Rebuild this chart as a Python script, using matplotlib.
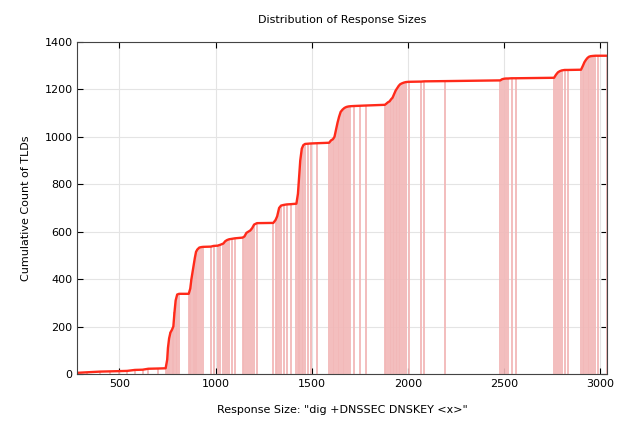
import matplotlib
matplotlib.use("Agg")
import matplotlib.pyplot as plt

# response size (bytes) and cumulative count of TLDs
sizes = [285, 330, 400, 450, 500, 540, 580, 620, 650, 700, 740,
         748, 752, 758, 765, 772, 780, 786, 792, 800, 810, 860,
         868, 874, 880, 886, 892, 898, 905, 915, 925, 935, 975, 990,
         1010, 1025, 1040, 1050, 1060, 1070, 1085, 1100, 1140, 1150,
         1160, 1170, 1180, 1190, 1200, 1215, 1300,
         1312, 1320, 1330, 1340, 1355, 1370, 1390, 1420,
         1428, 1434, 1440, 1448, 1456, 1465, 1480, 1495, 1525, 1590,
         1600, 1610, 1618, 1626, 1634, 1642, 1650, 1660, 1670, 1680, 1690,
         1700, 1720, 1750, 1780, 1880,
         1888, 1895, 1905, 1912, 1920, 1928, 1936, 1944, 1952, 1960, 1970,
         1980, 1990, 2005, 2070, 2085, 2195,
         2480, 2490, 2500, 2510, 2520, 2540, 2560,
         2760, 2770, 2780, 2790, 2800, 2815, 2830,
         2900, 2910, 2918, 2926, 2934, 2942, 2950, 2960, 2975, 2990, 3035]
counts = [5, 7, 10, 11, 12, 13, 17, 18, 22, 23, 24,
          60, 110, 150, 175, 185, 200, 260, 310, 335, 338, 338,
          360, 400, 430, 460, 490, 515, 525, 533, 535, 536, 537, 540,
          541, 545, 550, 560, 565, 568, 570, 572, 575, 580,
          595, 600, 605, 615, 630, 636, 637,
          650, 665, 700, 710, 713, 715, 716, 718,
          760, 830, 900, 950, 965, 970, 971, 972, 973, 975,
          985, 990, 1000, 1030, 1060, 1085, 1105, 1115, 1122, 1126, 1128,
          1129, 1130, 1131, 1132, 1135,
          1140, 1145, 1150, 1158, 1165, 1180, 1195, 1205, 1215, 1222, 1226,
          1229, 1231, 1232, 1233, 1234, 1235,
          1238, 1243, 1245, 1246, 1246, 1247, 1247,
          1249, 1262, 1272, 1277, 1280, 1282, 1282,
          1283, 1300, 1315, 1325, 1333, 1338, 1340, 1341, 1342, 1342, 1342]

fig, ax = plt.subplots(figsize=(6.24, 4.24), dpi=100)
fig.subplots_adjust(left=0.124, right=0.973, top=0.901, bottom=0.118)

ax.vlines(sizes, 0, counts, color="#f2b8b8", linewidth=1.3)
ax.plot(sizes, counts, color="#ff2a1a", linewidth=1.7)

ax.set_xlim(281, 3036)
ax.set_ylim(0, 1400)
ax.set_xticks([500, 1000, 1500, 2000, 2500, 3000])
ax.set_yticks(range(0, 1401, 200))
ax.grid(True, color="#e4e4e4", linewidth=0.8)
ax.set_axisbelow(True)
ax.tick_params(labelsize=8, direction="in", length=4, top=True, right=True)
for s in ax.spines.values():
    s.set_color("#444444")

ax.set_title("Distribution of Response Sizes", fontsize=8, pad=14)
ax.set_xlabel('Response Size: "dig +DNSSEC DNSKEY <x>"', fontsize=8, labelpad=12)
ax.set_ylabel("Cumulative Count of TLDs", fontsize=8, labelpad=10)

fig.savefig("out.png", dpi=100)
